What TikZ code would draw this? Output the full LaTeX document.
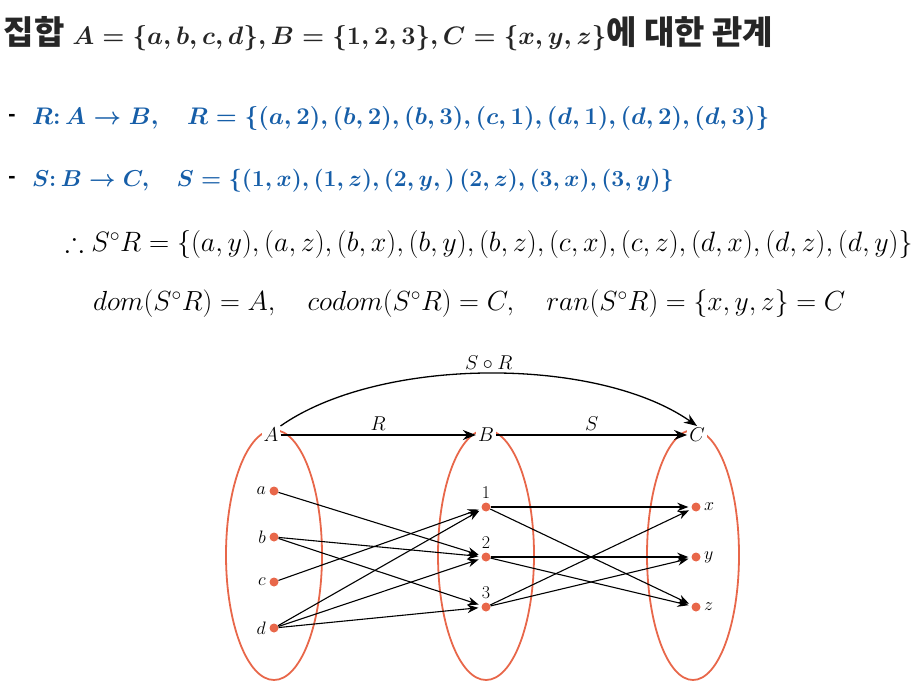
\RequirePackage{fix-cm}
\documentclass[tikz,border=0pt]{standalone}
\usepackage{amsmath,amssymb}
\usepackage{fontspec}
\newfontfamily\krfont{Noto Sans CJK KR}
\usetikzlibrary{arrows.meta,backgrounds,calc,positioning}
\definecolor{relblue}{RGB}{22,94,168}
\definecolor{setred}{RGB}{232,103,74}
\definecolor{titlegray}{RGB}{38,38,38}
\newcommand{\erx}{48pt}
\newcommand{\ery}{125pt}
\tikzset{
    txtline/.style = {
        anchor=base west, inner sep=0, outer sep=0
    },
    elem/.style = {
        circle, fill=setred, inner sep=0,
        minimum size=9pt,
        label distance=1pt
    },
    setlbl/.style = {
        fill=white, inner sep=2pt,
        font=\fontsize{20}{24}\selectfont
    },
    setell/.style = {
        draw=setred, line width=1.8pt
    },
    maparr/.style = {
        line width=1.7pt,
        -{Stealth[length=13pt,width=10pt]}
    },
    relarr/.style = {
        line width=1.1pt, shorten >=3pt,
        -{Stealth[length=11pt,width=8.5pt]}
    }
}

\begin{document}
\begin{tikzpicture}[x=1pt,y=-1pt]
\useasboundingbox (0,0) rectangle (920,684);

% text above
\node[txtline, text=titlegray, font=\krfont\bfseries\boldmath\fontsize{33}{38}\selectfont] (title) at (4,45)
    {집합 {\fontsize{25.3}{30}\selectfont$A=\{a,b,c,d\},B=\{1,2,3\},C=\{x,y,z\}$}에 대한 관계};
\node[txtline, font=\krfont\bfseries\fontsize{20}{24}\selectfont] (dashR) at (9,122) {-};
\node[txtline, text=relblue, font=\boldmath\fontsize{24}{28}\selectfont] (relR) at (32,125)
    {$R{:}\,A\to B,\quad R=\{(a,2),(b,2),(b,3),(c,1),(d,1),(d,2),(d,3)\}$};
\node[txtline, font=\krfont\bfseries\fontsize{20}{24}\selectfont] (dashS) at (9,184) {-};
\node[txtline, text=relblue, font=\boldmath\fontsize{23}{27}\selectfont] (relS) at (32,187)
    {$S{:}\,B\to C,\quad S=\{(1,x),(1,z),(2,y,)\,(2,z),(3,x),(3,y)\}$};
\node[txtline, font=\fontsize{28}{32}\selectfont] (comp) at (65,252)
    {$\therefore S^{\circ}R=\{(a,y),(a,z),(b,x),(b,y),(b,z),(c,x),(c,z),(d,x),(d,z),(d,y)\}$};
\node[txtline, font=\fontsize{27.6}{32}\selectfont] (dom) at (93,311)
    {$dom(S^{\circ}R)=A,\quad codom(S^{\circ}R)=C,\quad ran(S^{\circ}R)=\{x,y,z\}=C$};

% sets
\node[setlbl] (A) at (271,435) {$A$};
\node[setlbl] (B) at (486,435) {$B$};
\node[setlbl] (C) at (697,435) {$C$};

\node[elem, label={[font=\fontsize{18}{21}\selectfont]left:$a$}] (ea) at (274,491) {};
\node[elem, label={[font=\fontsize{18}{21}\selectfont]left:$b$}] (eb) at (274,537) {};
\node[elem, label={[font=\fontsize{18}{21}\selectfont]left:$c$}] (ec) at (274,582) {};
\node[elem, label={[font=\fontsize{18}{21}\selectfont]left:$d$}] (ed) at (274,628) {};

\node[elem, label={[font=\fontsize{18}{21}\selectfont]above:$1$}] (e1) at (486,507) {};
\node[elem, label={[font=\fontsize{18}{21}\selectfont]above:$2$}] (e2) at (486,557) {};
\node[elem, label={[font=\fontsize{18}{21}\selectfont]above:$3$}] (e3) at (486,607) {};

\node[elem, label={[font=\fontsize{18}{21}\selectfont]right:$x$}] (ex) at (696,507) {};
\node[elem, label={[font=\fontsize{18}{21}\selectfont]right:$y$}] (ey) at (696,557) {};
\node[elem, label={[font=\fontsize{18}{21}\selectfont]right:$z$}] (ez) at (696,607) {};

\begin{scope}[on background layer]
\draw[setell] (274,555) ellipse [x radius=\erx, y radius=\ery];
\draw[setell] (486,555) ellipse [x radius=\erx, y radius=\ery];
\draw[setell] (693,555) ellipse [x radius=46pt, y radius=\ery];
\end{scope}

% maps
\draw[maparr] (A) -- node[above, font=\fontsize{20}{24}\selectfont]{$R$} (B);
\draw[maparr] (B) -- node[above, font=\fontsize{20}{24}\selectfont]{$S$} (C);
\draw[maparr, line width=1.3pt] (A.north east) to[out=35, in=145, looseness=0.75]
    node[above, font=\fontsize{20}{24}\selectfont]{$S\circ R$} (C.north);

% R
\draw[relarr] (ea) -- (e2);
\draw[relarr] (eb) -- (e2);
\draw[relarr] (eb) -- (e3);
\draw[relarr] (ec) -- (e1);
\draw[relarr] (ed) -- (e1);
\draw[relarr] (ed) -- (e2);
\draw[relarr] (ed) -- (e3);

% S
\draw[relarr] (e1) -- (ex);
\draw[relarr] (e1) -- (ez);
\draw[relarr, line width=1.6pt] (e2) -- (ey);
\draw[relarr] (e2) -- (ez);
\draw[relarr] (e3) -- (ex);
\draw[relarr] (e3) -- (ey);

\end{tikzpicture}
\end{document}
